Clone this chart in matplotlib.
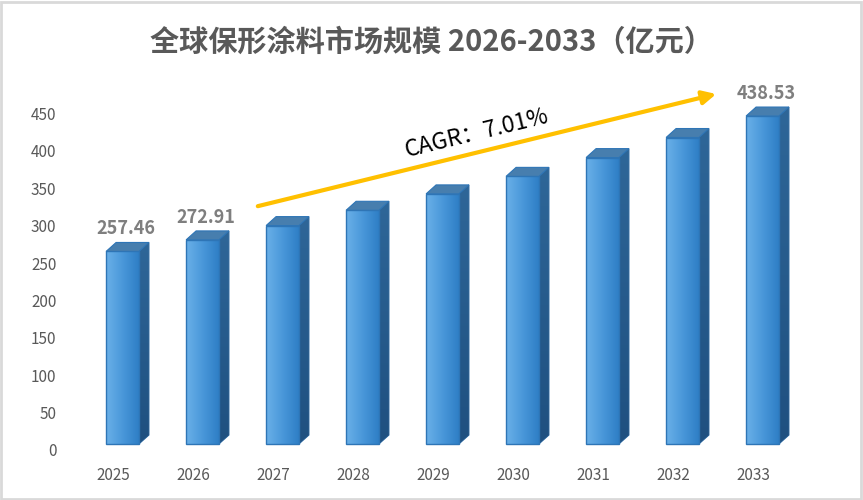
import numpy as np
import matplotlib
matplotlib.use("Agg")
import matplotlib.pyplot as plt
import matplotlib.transforms as mtransforms
from matplotlib.colors import LinearSegmentedColormap
from matplotlib.patches import Polygon, Rectangle

plt.rcParams["font.family"] = ["Noto Sans CJK SC", "DejaVu Sans"]

# ── data ──────────────────────────────────────────────────────────────────────
years = ["2025", "2026", "2027", "2028", "2029", "2030", "2031", "2032", "2033"]
values = [257.46, 272.91, 292.04, 312.51, 334.42, 357.86, 382.95, 409.80, 438.53]
labelled_years = ["2025", "2026", "2033"]
y_ticks = [0, 50, 100, 150, 200, 250, 300, 350, 400, 450]
title = "全球保形涂料市场规模 2026-2033（亿元）"
cagr_text = "CAGR：7.01%"

# ── style ─────────────────────────────────────────────────────────────────────
DPI = 100
BAR_W = 0.41          # front face width (category units)
DX, DY = 0.125, 12.0  # 3D depth offset in data units
GRAY = "#595959"
EDGE = "#2e75b6"
front_cmap = LinearSegmentedColormap.from_list("front", ["#6ab0e8", "#4a98da", "#2f7fc6"])
side_cmap = LinearSegmentedColormap.from_list("side", ["#1f5080", "#2e6698"])

fig = plt.figure(figsize=(863 / DPI, 500 / DPI), dpi=DPI)
ax = fig.add_axes([73 / 863, 50 / 500, 720 / 863, 359 / 500])

# bars sit a bit right of / above the tick positions, like the Excel 3D chart
tr = ax.transData + mtransforms.ScaledTranslation(9.5 / DPI, 6 / DPI, fig.dpi_scale_trans)

grad = np.linspace(0, 1, 64).reshape(1, -1)
vgrad = np.linspace(1, 0, 64).reshape(-1, 1)
x = np.arange(len(years))
for xi, v in zip(x, values):
    x0, x1 = xi - BAR_W / 2, xi + BAR_W / 2
    ax.imshow(grad, extent=(x0, x1, 0, v), transform=tr, aspect="auto",
              cmap=front_cmap, zorder=3, interpolation="bicubic")
    ax.add_patch(Rectangle((x0, 0), BAR_W, v, transform=tr, facecolor="none",
                           edgecolor=EDGE, lw=1.0, zorder=4))
    side = Polygon([(x1, 0), (x1 + DX, DY), (x1 + DX, v + DY), (x1, v)],
                   closed=True, transform=tr, facecolor="none",
                   edgecolor="#2a6aa6", lw=0.8, zorder=2)
    ax.add_patch(side)
    side_img = ax.imshow(vgrad, extent=(x1, x1 + DX, 0, v + DY), transform=tr,
                         aspect="auto", cmap=side_cmap, zorder=2,
                         interpolation="bicubic")
    side_img.set_clip_path(side)
    top = Polygon([(x0, v), (x0 + DX, v + DY), (x1 + DX, v + DY), (x1, v)],
                  closed=True, transform=tr, facecolor="#477eae",
                  edgecolor=EDGE, lw=0.8, zorder=5)
    ax.add_patch(top)
    if years[xi] in labelled_years:
        ax.annotate(f"{v:.2f}", xy=(xi + DX / 3, v + DY), xycoords=tr,
                    xytext=(0, 3), textcoords="offset points",
                    ha="center", va="bottom", fontsize=13, fontweight="bold",
                    color="#7f7f7f", zorder=6)

ax.set_xlim(-0.5, len(years) - 0.5)
ax.set_ylim(0, 480)
ax.set_xticks(x)
ax.set_xticklabels(years)
ax.set_yticks(y_ticks)
ax.tick_params(length=0, labelsize=11, labelcolor=GRAY)
ax.tick_params(axis="y", pad=12)
ax.tick_params(axis="x", pad=12)
for s in ax.spines.values():
    s.set_visible(False)

# growth arrow + CAGR note
ax.annotate("", xy=(7.54, 476), xytext=(1.81, 326),
            arrowprops=dict(arrowstyle="-|>", color="#FFC000", lw=3,
                            mutation_scale=20, shrinkA=0, shrinkB=0),
            annotation_clip=False, zorder=7)
ax.text(4.54, 424, cagr_text, rotation=13.7, rotation_mode="anchor",
        ha="center", va="center", fontsize=16.5, color="black", zorder=7)

fig.text(0.5, 1 - 42 / 500, title, ha="center", va="center",
         fontsize=21, fontweight="bold", color=GRAY)

# light gray frame round the picture
fig.add_artist(Rectangle((0.001, 0.002), 0.997, 0.995, transform=fig.transFigure,
                         facecolor="none", edgecolor="#d9d9d9", lw=2))

fig.savefig("out.png", dpi=DPI, facecolor="white")
